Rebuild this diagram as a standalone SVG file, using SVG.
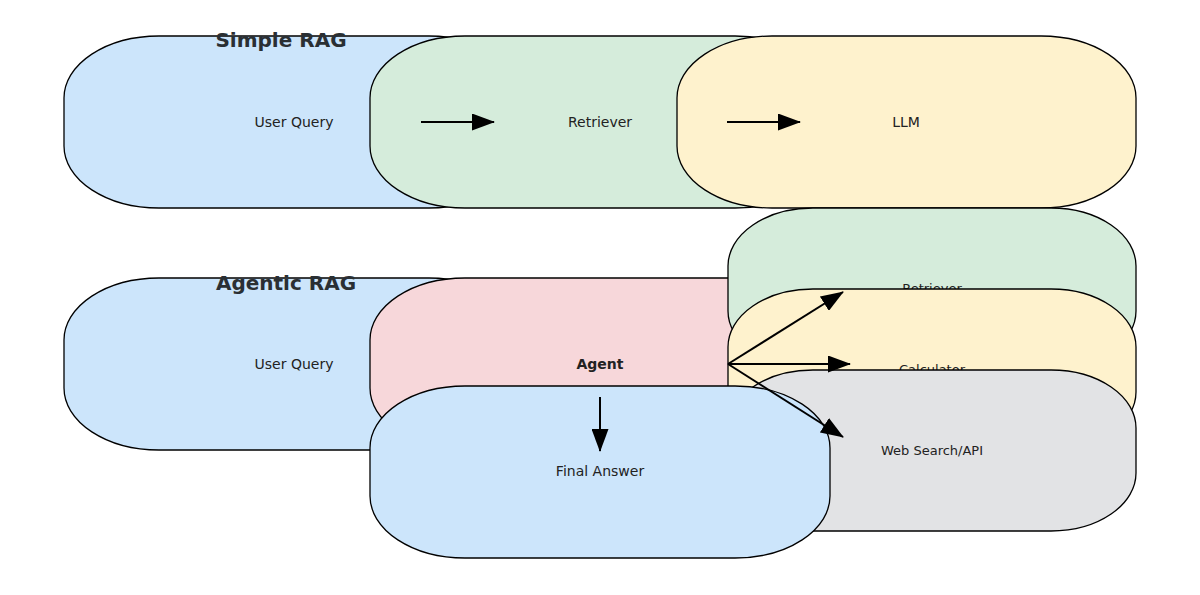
<svg xmlns="http://www.w3.org/2000/svg" width="1200" height="595" viewBox="0 0 1200 595">
<style>
.b{stroke:#000;stroke-width:1.3}
.t{font-family:"DejaVu Sans",sans-serif;font-size:14px;fill:#222;text-anchor:middle;dominant-baseline:central}
.s{font-size:13px}
.h{font-family:"DejaVu Sans",sans-serif;font-size:20px;font-weight:bold;fill:#2a2f33;text-anchor:middle;dominant-baseline:central}
.c{stroke:#000;stroke-width:2;fill:none;marker-end:url(#a)}
</style>
<defs><marker id="a" markerWidth="23" markerHeight="17" refX="22" refY="8.5" orient="auto" markerUnits="userSpaceOnUse" viewBox="0 0 23 17"><path d="M0,0L23,8.5L0,17z"/></marker></defs>
<rect width="1200" height="595" fill="#fff"/>
<g id="n1"><rect class="b" x="64" y="36" width="460" height="172" rx="95" ry="62" fill="#cce5fb"/><text class="t" x="294" y="122">User Query</text></g>
<g id="n2"><rect class="b" x="370" y="36" width="460" height="172" rx="95" ry="62" fill="#d5ecdb"/><text class="t" x="600" y="122">Retriever</text></g>
<g id="n3"><rect class="b" x="677" y="36" width="459" height="172" rx="95" ry="62" fill="#fef2cd"/><text class="t" x="906" y="122">LLM</text></g>
<text class="h" x="281" y="40">Simple RAG</text>
<g id="n4"><rect class="b" x="64" y="278" width="460" height="172" rx="95" ry="62" fill="#cce5fb"/><text class="t" x="294" y="364">User Query</text></g>
<g id="n5"><rect class="b" x="370" y="278" width="460" height="172" rx="95" ry="62" fill="#f7d7da"/><text class="t" x="600" y="364" font-weight="bold">Agent</text></g>
<g id="n6"><rect class="b" x="728" y="208" width="408" height="161" rx="85" ry="58" fill="#d5ecdb"/><text class="t s" x="932" y="288">Retriever</text></g>
<g id="n7"><rect class="b" x="728" y="289" width="408" height="161" rx="85" ry="58" fill="#fef2cd"/><text class="t s" x="932" y="369">Calculator</text></g>
<g id="n8"><rect class="b" x="728" y="370" width="408" height="161" rx="85" ry="58" fill="#e2e3e5"/><text class="t s" x="932" y="450">Web Search/API</text></g>
<g id="n9"><rect class="b" x="370" y="386" width="460" height="172" rx="95" ry="62" fill="#cce5fb"/><text class="t" x="600" y="471">Final Answer</text></g>
<text class="h" x="286" y="283">Agentic RAG</text>
<g id="connectors">
<line class="c" x1="421" y1="122" x2="494" y2="122"/>
<line class="c" x1="727" y1="122" x2="800" y2="122"/>
<line class="c" x1="728" y1="364" x2="843" y2="292"/>
<line class="c" x1="728" y1="364" x2="850" y2="364"/>
<line class="c" x1="728" y1="364" x2="843" y2="437"/>
<line class="c" x1="600" y1="397" x2="600" y2="451"/>
</g>
</svg>
